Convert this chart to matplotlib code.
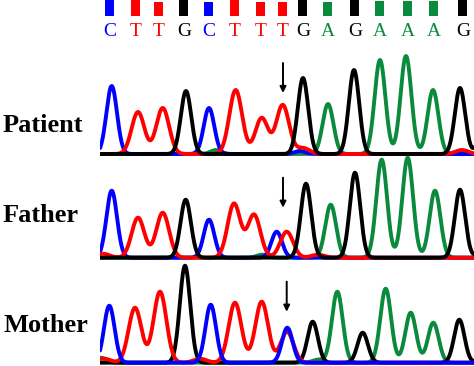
import numpy as np
import matplotlib.pyplot as plt

W, H = 474, 366
colors = {'A': '#0a8a3c', 'C': '#0000ff', 'G': '#000000', 'T': '#ff0000'}
sigma = {'A': 5.4, 'C': 5.3, 'G': 5.2, 'T': 6.4}

# base calls shown above the traces
call_bases = list("CTTGCTTTGAGAAAG")
call_pos = [110, 136, 159, 184, 209, 235, 261, 283, 303, 328, 355, 380, 408, 434, 463]
call_qual = [16, 16, 14, 16, 14, 16, 14, 14, 16, 14, 16, 15, 15, 15, 16]

# peaks (scan position, height, base) for each sample
patient_pos = [111.7, 138, 162.7, 186, 209, 235.7, 261.7, 282.7, 303, 328, 354, 380, 406, 433, 460, 486,
               303, 216, 462, 300]
patient_h = [68, 42, 46, 63, 46, 64, 36, 49, 76, 50, 84, 94, 98, 64, 66, 70,
             6, 4, 4, 3]
patient_b = "CTTGCTTTGAGAAAGG" + "TATC"

father_pos = [111.7, 138, 162.7, 185.7, 209, 234, 254, 276.7, 286.7, 306, 330.7, 355, 381.7, 407.7, 435, 460, 488,
              103, 262, 318]
father_h = [67, 40, 45, 58, 38, 54, 43, 26, 26, 74, 53, 85, 98, 100, 67, 68, 70,
            4, 3, 3]
father_b = "CTTGCTTCTGAGAAAGG" + "TAT"

mother_pos = [109.3, 135, 160, 185, 210.7, 235, 261.7, 287.3, 287, 312.7, 337.3, 362.7, 385.7, 410.7, 433.3, 459.3, 488,
              101, 104, 200, 318]
mother_h = [57, 55, 71, 97, 58, 60, 61, 35, 31, 41, 71, 30, 74, 50, 40, 43, 45,
            5, 4, 4, 3]
mother_b = "CTTGCTTCTGAGAAAGG" + "ATTA"

samples = ["Patient", "Father", "Mother"]
baselines = [154, 257.7, 362.7]
label_y = [125, 216, 325]
arrow_x = [283, 283, 286.7]
arrow_tip = [61, 50, 51]
draw_order = ["ACTG", "ACTG", "AGTC"]


def px_axes(fig, left, top, right, bottom):
    return fig.add_axes([left / W, 1 - bottom / H, (right - left) / W, (bottom - top) / H])


fig = plt.figure(figsize=(W / 100, H / 100), dpi=100)

# top strip with base calls
ax = px_axes(fig, 0, 0, W, 45)
ax.set_xlim(0, W)
ax.set_ylim(0, 45)
ax.axis('off')
ax.bar(call_pos, call_qual, bottom=29, width=9,
       color=[colors[b] for b in call_bases])
for x, b in zip(call_pos, call_bases):
    ax.text(x, 13, b, color=colors[b], ha='center', va='center',
            family='Liberation Serif', fontsize=14)

x = np.linspace(100, 474, 2000)
peaks = [(patient_pos, patient_h, patient_b),
         (father_pos, father_h, father_b),
         (mother_pos, mother_h, mother_b)]

for i, (pos, hts, bases) in enumerate(peaks):
    base = baselines[i]
    ax = px_axes(fig, 100, base - 106, W, base + 3)
    ax.set_xlim(100, W)
    ax.set_ylim(-3, 106)
    ax.axis('off')
    for ch in draw_order[i]:
        y = np.zeros_like(x)
        for p, h, b in zip(pos, hts, bases):
            if b == ch:
                y += h * np.exp(-(x - p) ** 2 / (2 * sigma[ch] ** 2))
        ax.plot(x, y, color=colors[ch], lw=2.8, solid_capstyle='round')
    ax.annotate('', xy=(arrow_x[i], arrow_tip[i]), xytext=(arrow_x[i], arrow_tip[i] + 30),
                arrowprops=dict(arrowstyle='-|>', color='black', lw=1.4,
                                mutation_scale=9, shrinkA=0, shrinkB=0))
    fig.text(3 / W, 1 - label_y[i] / H, samples[i], ha='left', va='center',
             family='Liberation Serif', fontweight='bold', fontsize=19)

fig.savefig('out.png', dpi=100)
